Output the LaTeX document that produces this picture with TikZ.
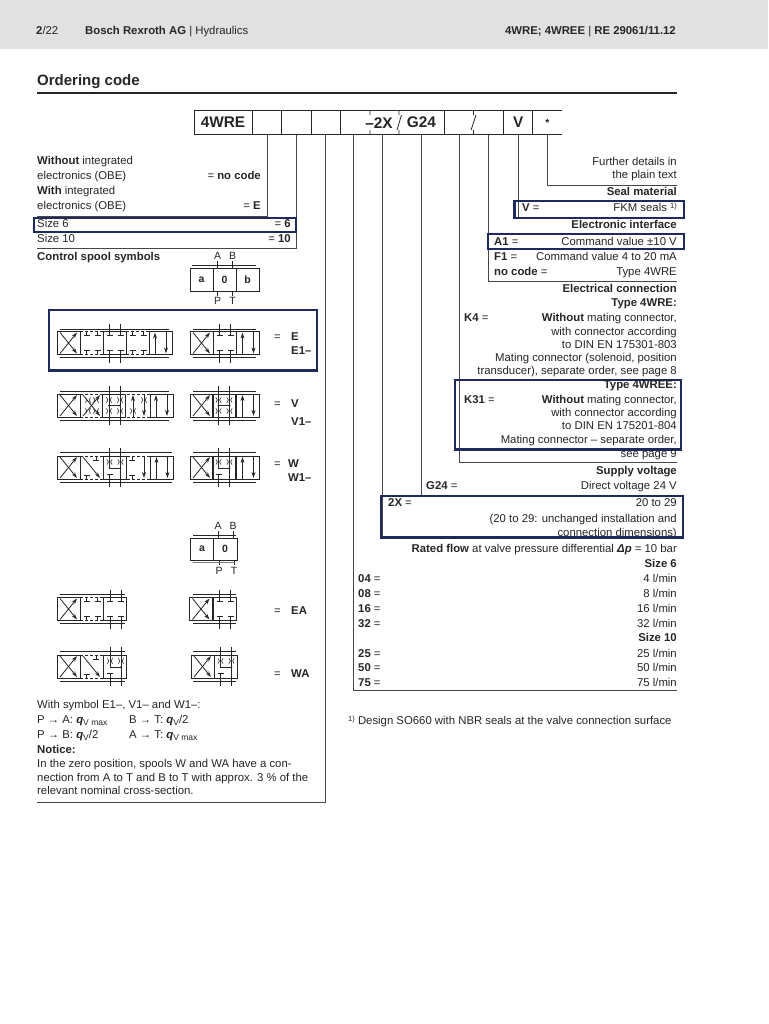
\documentclass[tikz,border=0pt]{standalone}
\usepackage{fontspec}
\setmainfont{Liberation Sans}
\usetikzlibrary{arrows.meta}
\definecolor{navy}{HTML}{1F2A5C}
\definecolor{ink}{HTML}{262626}
\definecolor{band}{HTML}{E1E1E1}
\newcount\tn
\tikzset{
 conn/.style={draw=ink!85,line width=0.9pt},
 navybox/.style={draw=navy,line width=2.2pt},
 codecell/.style={inner sep=0pt,outer sep=0pt,minimum height=24.5pt,font=\fontsize{15.4}{17}\selectfont\bfseries,text=ink},
 lt/.style={anchor=base west,inner sep=0pt,text=ink,font=\fontsize{11.35}{13}\selectfont},
 rt/.style={anchor=base east,inner sep=0pt,text=ink,font=\fontsize{11.35}{13}\selectfont},
 ct/.style={anchor=center,inner sep=0pt,text=ink,font=\fontsize{10.5}{12}\selectfont},
 sp/.style={draw=ink,line width=0.8pt},
 spthick/.style={draw=ink,line width=1pt},
 spd/.style={draw=ink,line width=0.8pt,dash pattern=on 3pt off 2pt},
 sa/.style={draw=ink,line width=0.8pt,-{Stealth[length=6pt,width=3.8pt]}},
}
\newcommand\LT[3]{\global\advance\tn by 1 \node[lt] (t\the\tn) at (#1,#2+4) {#3};}
\newcommand\RT[3]{\global\advance\tn by 1 \node[rt] (t\the\tn) at (#1,#2+4) {#3};}
\newcommand\CT[3]{\global\advance\tn by 1 \node[ct] (t\the\tn) at (#1,#2) {#3};}
\newcommand\qmax{{\bfseries\itshape q}\raisebox{-2pt}{\fontsize{8.5}{8}\selectfont V max}}
\newcommand\qhalf{{\bfseries\itshape q}\raisebox{-2pt}{\fontsize{8.5}{8}\selectfont V}/2}
% throttle mark
\newcommand\thr[2]{\draw[sp,line width=0.6pt] (#1-2.6,#2-2.6) .. controls (#1-0.6,#2) .. (#1-2.6,#2+2.6) (#1+2.6,#2-2.6) .. controls (#1+0.6,#2) .. (#1+2.6,#2+2.6);}
% T marks in a cell, relative to a scope
\newcommand\Ttop[1]{\draw[sp] (#1,0) -- (#1,4) (#1-3,4) -- (#1+3,4);}
\newcommand\Tbot[1]{\draw[sp] (#1,23) -- (#1,19) (#1-3,19) -- (#1+3,19);}
% cells: x, y of the top left corner
\newcommand\cellX[2]{\begin{scope}[shift={(#1,#2)}]
 \draw[spthick] (0,0) rectangle (23,23);
 \draw[sa] (3,22) -- (20,1); \draw[sa] (3,1) -- (20,22);
\end{scope}}
\newcommand\cellTd[2]{\begin{scope}[shift={(#1,#2)}]
 \draw[spd] (0,0) -- (23,0) (0,23) -- (23,23);
 \Ttop{6.5}\Ttop{17.5}\Tbot{6.5}\Tbot{17.5}
\end{scope}}
\newcommand\cellTc[2]{\begin{scope}[shift={(#1,#2)}]
 \draw[sp] (0,0) rectangle (23,23);
 \draw[sp] (6.5,-8) -- (6.5,4) (3.5,4) -- (9.5,4) (17.5,-8) -- (17.5,4) (14.5,4) -- (20.5,4);
 \draw[sp] (6.5,31) -- (6.5,19) (3.5,19) -- (9.5,19) (17.5,31) -- (17.5,19) (14.5,19) -- (20.5,19);
\end{scope}}
\newcommand\cellP[2]{\begin{scope}[shift={(#1,#2)}]
 \draw[spthick] (0,0) rectangle (23,23);
 \draw[sa] (6,23) -- (6,1); \draw[sa] (17,0) -- (17,22);
\end{scope}}
\newcommand\cellVd[2]{\begin{scope}[shift={(#1,#2)}]
 \draw[spd] (0,0) -- (23,0) (0,23) -- (23,23);
 \draw[sa] (3,22) -- (20,1); \draw[sa] (3,1) -- (20,22);
 \thr{8}{6}\thr{16}{6}\thr{8}{17}\thr{16}{17}
\end{scope}}
\newcommand\cellVc[2]{\begin{scope}[shift={(#1,#2)}]
 \draw[spthick] (0,0) rectangle (23,23);
 \draw[sp] (6.5,-8) -- (6.5,31) (17.5,-8) -- (17.5,31) (6.5,11.5) -- (17.5,11.5);
 \fill[ink] (6.5,11.5) circle (1pt) (17.5,11.5) circle (1pt);
 \thr{6.5}{6}\thr{17.5}{6}\thr{6.5}{17}\thr{17.5}{17}
\end{scope}}
\newcommand\cellVq[2]{\begin{scope}[shift={(#1,#2)}]
 \draw[spd] (0,0) -- (23,0) (0,23) -- (23,23);
 \draw[sa] (6,23) -- (6,1); \draw[sa] (17,0) -- (17,22);
 \thr{17}{6}\thr{6}{17}
\end{scope}}
\newcommand\cellWd[2]{\begin{scope}[shift={(#1,#2)}]
 \draw[spd] (0,0) -- (23,0) (0,23) -- (23,23);
 \draw[sa] (3,1) -- (20,22);
 \Ttop{16}\Tbot{6.5}
\end{scope}}
\newcommand\cellWc[2]{\begin{scope}[shift={(#1,#2)}]
 \draw[sp] (0,0) rectangle (23,23);
 \draw[sp] (6.5,-8) -- (6.5,12) -- (17.5,12) (17.5,-8) -- (17.5,31);
 \fill[ink] (17.5,12) circle (1pt);
 \draw[sp] (6.5,31) -- (6.5,18) (3.5,18) -- (9.5,18);
 \thr{6.5}{6}\thr{17.5}{6}
\end{scope}}
\newcommand\cellWq[2]{\begin{scope}[shift={(#1,#2)}]
 \draw[spd] (0,0) -- (23,0) (0,23) -- (23,23);
 \Ttop{5}\Tbot{5}
 \draw[sa] (17,0) -- (17,22);
\end{scope}}
\begin{document}
\begin{tikzpicture}[x=1pt,y=-1pt]
\useasboundingbox (0,0) rectangle (768,1024);
\fill[white] (0,0) rectangle (768,1024);
\fill[band] (0,0) rectangle (768,49.5);
\LT{36}{31}{\textbf{2}/22}
\LT{85}{31}{\textbf{Bosch Rexroth AG} | Hydraulics}
\RT{676}{31}{\textbf{4WRE; 4WREE} | \textbf{RE 29061/11.12}}
\global\advance\tn by 1 \node[lt,font=\fontsize{15}{17}\selectfont\bfseries] (t\the\tn) at (37,86) {Ordering code};
\coordinate (ra) at (37,93); \coordinate (rb) at (677,93);
\draw[draw=ink,line width=1.3pt] (ra) -- (rb);

% code cells
\node[codecell,minimum width=58.7pt] (c0) at (223,122.7) {4WRE};
\node[codecell,minimum width=29pt] (c1) at (267.2,122.7) {};
\node[codecell,minimum width=29pt] (c2) at (296.3,122.7) {};
\node[codecell,minimum width=29pt] (c3) at (325.5,122.7) {};
\node[codecell,minimum width=29pt] (c4) at (353.7,122.7) {};
\node[codecell,minimum width=29pt] (c5) at (382.7,122.7) {};
\node[codecell,minimum width=45pt] (c6) at (421.5,122.7) {G24};
\node[codecell,minimum width=29pt] (c7) at (459.7,122.7) {};
\node[codecell,minimum width=29pt] (c8) at (488.7,122.7) {};
\node[codecell,minimum width=29pt] (c9) at (518.3,122.7) {V};
\node[codecell,minimum width=29pt,font=\fontsize{10.5}{12}\selectfont\bfseries] (c10) at (547.5,122.7) {*};
\node[codecell] (dash2x) at (379,122.7) {–2X};
% frame
\draw[draw=ink,line width=1pt] (562,110.5) -- (194,110.5) -- (194,135) -- (562,135);
\draw[draw=ink,line width=0.9pt]
 (252.7,110.5) -- (252.7,135) (281.7,110.5) -- (281.7,135) (311,110.5) -- (311,135)
 (340,110.5) -- (340,135) (444,110.5) -- (444,135) (503,110.5) -- (503,135) (532.7,110.5) -- (532.7,135);
\draw[draw=ink,line width=0.8pt]
 (370,110.5) -- (370,115) (370,130) -- (370,135)
 (399,110.5) -- (399,115) (399,130) -- (399,135) (401.5,115) -- (397,130)
 (473.5,110.5) -- (473.5,115) (473.5,130) -- (473.5,135) (476,115) -- (471,130);

% connectors
\coordinate (e1) at (37,216); \coordinate (e2) at (37,248); \coordinate (e3) at (37,802);
\coordinate (e4) at (677,690); \coordinate (e5) at (677,538); \coordinate (e6) at (677,495);
\coordinate (e7) at (677,462); \coordinate (e8) at (677,281); \coordinate (e9) at (677,218); \coordinate (e10) at (677,185);
\draw[conn] (c1.south) |- (e1);
\draw[conn] (c2.south) |- (e2);
\draw[conn] (c3.south) |- (e3);
\draw[conn] (c4.south) |- (e4);
\draw[conn] (c5.south) |- (e5);
\draw[conn] (c6.south) |- (e6);
\draw[conn] (c7.south) |- (e7);
\draw[conn] (c8.south) |- (e8);
\draw[conn] (c9.south) |- (e9);
\draw[conn] (c10.south) |- (e10);

% navy boxes
\draw[navybox] (34,217.7) rectangle (295.8,232);
\draw[navybox] (514.5,200.7) rectangle (684,217.7);
\draw[navybox] (488.3,234.3) rectangle (684,249.3);
\draw[navybox] (455,380) rectangle (681,449.5);
\draw[navybox] (381,496) rectangle (683,537.5);
\draw[navybox] (49,310) rectangle (317,370.5);

% left column
\LT{37}{161}{\textbf{Without} integrated}
\LT{37}{176}{electronics (OBE)}
\RT{261}{176}{= \textbf{no code}}
\LT{37}{191}{\textbf{With} integrated}
\LT{37}{206}{electronics (OBE)}
\RT{261}{206}{= \textbf{E}}
\LT{37}{224}{Size 6}
\RT{291}{224}{= \textbf{6}}
\LT{37}{239}{Size 10}
\RT{291}{239}{= \textbf{10}}
\LT{37}{256}{\textbf{Control spool symbols}}

% small symbol 1
\CT{217.5}{256}{A}\CT{232.5}{256}{B}\CT{217.5}{301}{P}\CT{232.5}{301}{T}
\draw[sp] (192,265) -- (256,265) (217.5,261) -- (217.5,268) (232.5,261) -- (232.5,268) (217.5,291) -- (217.5,296) (232.5,291) -- (232.5,296);
\draw[spthick] (190,268) rectangle (259,291) (213,268) -- (213,291) (236,268) -- (236,291);
\CT{201.5}{279.5}{\textbf{a}}\CT{224.5}{279.5}{\textbf{0}}\CT{247.5}{279.5}{\textbf{b}}

% small symbol 2
\CT{218}{526}{A}\CT{233}{526}{B}\CT{219}{571}{P}\CT{234}{571}{T}
\draw[sp] (193,535) -- (236,535) (218.5,531) -- (218.5,538) (233,531) -- (233,538) (219,561) -- (219,565) (234,561) -- (234,565);
\draw[draw=ink!60,line width=1pt] (193,562) -- (235,562);
\draw[spthick] (190.7,538) rectangle (237,560.7) (213.7,538) -- (213.7,560.7);
\CT{202}{549}{\textbf{a}}\CT{225}{549}{\textbf{0}}

% E row
\draw[sp] (60,329) -- (169,329) (60,357) -- (169,357) (193,329) -- (256,329) (193,357) -- (256,357);
\cellX{57}{331.5}\cellTd{80}{331.5}\cellTc{103}{331.5}\cellTd{126}{331.5}\cellP{149}{331.5}
\cellX{190}{331.5}\cellTc{213}{331.5}\cellP{236.5}{331.5}
% V row
\draw[sp] (60,391) -- (169,391) (60,420) -- (169,420) (193,391) -- (256,391) (193,420) -- (256,420);
\cellX{57}{394}\cellVd{80}{394}\cellVc{102.5}{394}\cellVq{127}{394}\cellP{150}{394}
\cellX{190}{394}\cellVc{212}{394}\cellP{236.5}{394}
% W row
\draw[sp] (60,452) -- (172,452) (60,482.5) -- (172,482.5) (193,452) -- (256,452) (193,482.5) -- (256,482.5);
\cellX{57}{456}\cellWd{80}{456}\cellWc{103}{456}\cellWq{127}{456}\cellP{150.5}{456}
\cellX{190}{456}\cellWc{212}{456}\cellP{236.5}{456}
% EA row
\draw[sp] (60,594) -- (125,594) (60,623.7) -- (125,623.7) (193,594) -- (236,594) (193,623.7) -- (236,623.7);
\cellX{57}{597.5}\cellTd{80}{597.5}\cellTc{103.5}{597.5}
\cellX{189.5}{597.5}\cellTc{213}{597.5}
% WA row
\draw[sp] (60,651.7) -- (125,651.7) (60,681.7) -- (125,681.7) (193,651.7) -- (236,651.7) (193,681.7) -- (236,681.7);
\cellX{57}{655}\cellWd{80}{655}\cellWc{103.5}{655}
\cellX{191}{655}\cellWc{214}{655}

% symbol labels
\LT{274}{336}{=}\LT{291}{336}{\textbf{E}}\LT{291}{350}{\textbf{E1–}}
\LT{274}{403}{=}\LT{291}{403}{\textbf{V}}\LT{291}{421}{\textbf{V1–}}
\LT{274}{463}{=}\LT{288}{463}{\textbf{W}}\LT{288}{477}{\textbf{W1–}}
\LT{274}{610}{=}\LT{291}{610}{\textbf{EA}}
\LT{274}{673}{=}\LT{291}{673}{\textbf{WA}}

% notes
\LT{37}{704}{With symbol E1–, V1– and W1–:}
\LT{37}{719}{P → A: \qmax}\LT{129}{719}{B → T: \qhalf}
\LT{37}{734}{P → B: \qhalf}\LT{129}{734}{A → T: \qmax}
\LT{37}{749}{\textbf{Notice:}}
\LT{37}{763}{In the zero position, spools W and WA have a con-}
\LT{37}{777}{nection from A to T and B to T with approx. 3 \% of the}
\LT{37}{790}{relevant nominal cross-section.}

% right column
\RT{677}{162}{Further details in}
\RT{677}{175}{the plain text}
\RT{677}{192}{\textbf{Seal material}}
\LT{522}{208}{\textbf{V} =}\RT{677}{208}{FKM seals \raisebox{3pt}{\fontsize{7.5}{8}\selectfont 1)}}
\RT{677}{225}{\textbf{Electronic interface}}
\LT{494}{241}{\textbf{A1} =}\RT{677}{241}{Command value ±10 V}
\LT{494}{256}{\textbf{F1} =}\RT{677}{256}{Command value 4 to 20 mA}
\LT{494}{271}{\textbf{no code} =}\RT{677}{271}{Type 4WRE}
\RT{677}{288}{\textbf{Electrical connection}}
\RT{677}{302}{\textbf{Type 4WRE:}}
\LT{464}{317}{\textbf{K4} =}\RT{677}{317}{\textbf{Without} mating connector,}
\RT{677}{331}{with connector according}
\RT{677}{344}{to DIN EN 175301-803}
\RT{677}{357}{Mating connector (solenoid, position}
\RT{677}{370}{transducer), separate order, see page 8}
\RT{677}{384}{\textbf{Type 4WREE:}}
\LT{464}{399}{\textbf{K31} =}\RT{677}{399}{\textbf{Without} mating connector,}
\RT{677}{412}{with connector according}
\RT{677}{425}{to DIN EN 175201-804}
\RT{677}{439}{Mating connector – separate order,}
\RT{677}{453}{see page 9}
\RT{677}{470}{\textbf{Supply voltage}}
\LT{426}{485}{\textbf{G24} =}\RT{677}{485}{Direct voltage 24 V}
\LT{388}{502}{\textbf{2X} =}\RT{677}{502}{20 to 29}
\RT{677}{518}{(20 to 29: unchanged installation and}
\RT{677}{532}{connection dimensions)}
\RT{677}{548}{\textbf{Rated flow} at valve pressure differential {\bfseries\itshape Δp} = 10 bar}
\RT{677}{563}{\textbf{Size 6}}
\LT{358}{578}{\textbf{04} =}\RT{677}{578}{4 l/min}
\LT{358}{593}{\textbf{08} =}\RT{677}{593}{8 l/min}
\LT{358}{608}{\textbf{16} =}\RT{677}{608}{16 l/min}
\LT{358}{623}{\textbf{32} =}\RT{677}{623}{32 l/min}
\RT{677}{637}{\textbf{Size 10}}
\LT{358}{653}{\textbf{25} =}\RT{677}{653}{25 l/min}
\LT{358}{667}{\textbf{50} =}\RT{677}{667}{50 l/min}
\LT{358}{682}{\textbf{75} =}\RT{677}{682}{75 l/min}
\LT{348}{720}{\raisebox{3pt}{\fontsize{7.5}{8}\selectfont 1)} Design SO660 with NBR seals at the valve connection surface}
\end{tikzpicture}
\end{document}
